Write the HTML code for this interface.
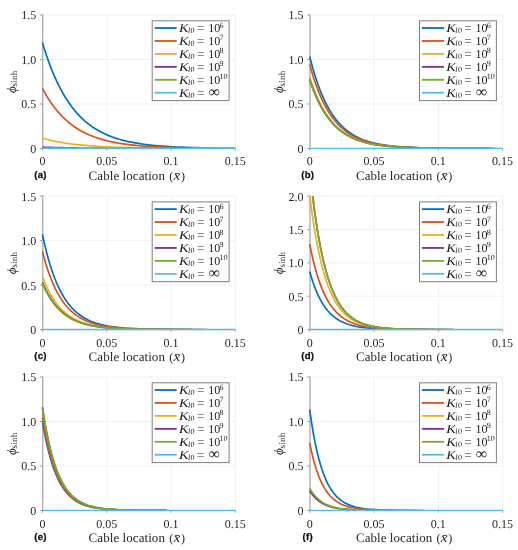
<!DOCTYPE html>
<html><head><meta charset="utf-8"><title>Figure</title>
<style>
html,body{margin:0;padding:0;background:#fff;}
svg{display:block;}
text{text-rendering:geometricPrecision;}
.t{font-family:"Liberation Serif",serif;font-size:12px;fill:#262626;}
.l{font-family:"Liberation Serif",serif;font-size:13px;fill:#262626;}
.p{font-family:"Liberation Sans",sans-serif;font-weight:bold;font-size:9.6px;letter-spacing:0.3px;fill:#111;stroke:#111;stroke-width:0.25px;}
.g{font-family:"Liberation Serif",serif;font-size:12px;fill:#1a1a1a;}
.gi{font-style:italic;}
.s{font-size:8px;}
.u{font-size:8px;}
</style></head><body>
<svg width="518" height="550" viewBox="0 0 518 550">
<rect x="0" y="0" width="518" height="550" fill="#ffffff"/>
<g id="panel-a">
<line x1="106.9" y1="15" x2="106.9" y2="148.5" stroke="#f3f3f3" stroke-width="1.2"/>
<line x1="171.2" y1="15" x2="171.2" y2="148.5" stroke="#f3f3f3" stroke-width="1.2"/>
<line x1="235.5" y1="15" x2="235.5" y2="148.5" stroke="#f3f3f3" stroke-width="1.2"/>
<line x1="42.4" y1="148.5" x2="235.3" y2="148.5" stroke="#f0f0f0" stroke-width="1"/>
<line x1="42.4" y1="104" x2="235.3" y2="104" stroke="#f0f0f0" stroke-width="1"/>
<line x1="42.4" y1="59.5" x2="235.3" y2="59.5" stroke="#f0f0f0" stroke-width="1"/>
<line x1="42.4" y1="15" x2="235.3" y2="15" stroke="#f0f0f0" stroke-width="1"/>
<line x1="42.7" y1="14.5" x2="42.7" y2="149" stroke="#b0b0b0" stroke-width="1.4"/>
<line x1="42.4" y1="148.5" x2="235.3" y2="148.5" stroke="#b0b0b0" stroke-width="1.2"/>
<line x1="40" y1="148.5" x2="42.4" y2="148.5" stroke="#999" stroke-width="1"/>
<text class="t" x="36.2" y="152.9" text-anchor="end">0</text>
<line x1="40" y1="104" x2="42.4" y2="104" stroke="#999" stroke-width="1"/>
<text class="t" x="36.2" y="108.4" text-anchor="end">0.5</text>
<line x1="40" y1="59.5" x2="42.4" y2="59.5" stroke="#999" stroke-width="1"/>
<text class="t" x="36.2" y="63.9" text-anchor="end">1.0</text>
<line x1="40" y1="15" x2="42.4" y2="15" stroke="#999" stroke-width="1"/>
<text class="t" x="36.2" y="19.4" text-anchor="end">1.5</text>
<line x1="42.4" y1="148.5" x2="42.4" y2="150.7" stroke="#999" stroke-width="1"/>
<text class="t" x="42.4" y="165.4" text-anchor="middle">0</text>
<line x1="106.7" y1="148.5" x2="106.7" y2="150.7" stroke="#999" stroke-width="1"/>
<text class="t" x="106.7" y="165.4" text-anchor="middle">0.05</text>
<line x1="171" y1="148.5" x2="171" y2="150.7" stroke="#999" stroke-width="1"/>
<text class="t" x="171" y="165.4" text-anchor="middle">0.1</text>
<line x1="235.3" y1="148.5" x2="235.3" y2="150.7" stroke="#999" stroke-width="1"/>
<text class="t" x="235.3" y="165.4" text-anchor="middle">0.15</text>
<clipPath id="clip-a"><rect x="41.4" y="15" width="194.9" height="134.15"/></clipPath>
<clipPath id="clipc-a"><rect x="41.4" y="15" width="194.9" height="132.8"/></clipPath>
<g fill="none" stroke-width="1.7" stroke-linejoin="round">
<path d="M42.4 42.59 L42.52 43 L42.82 44 L43.28 45.5 L43.87 47.43 L44.6 49.74 L45.46 52.38 L46.43 55.32 L47.53 58.51 L48.74 61.9 L50.07 65.47 L51.5 69.16 L53.05 72.96 L54.7 76.81 L56.45 80.69 L58.31 84.58 L60.27 88.43 L62.33 92.23 L64.49 95.96 L66.75 99.59 L69.1 103.12 L71.55 106.51 L74.1 109.77 L76.74 112.89 L79.47 115.85 L82.3 118.65 L85.22 121.29 L88.23 123.77 L91.33 126.09 L94.52 128.24 L97.8 130.25 L101.16 132.1 L104.62 133.8 L108.16 135.36 L111.79 136.79 L115.51 138.1 L119.31 139.28 L123.2 140.35 L127.18 141.32 L131.23 142.18 L135.38 142.96 L139.6 143.66 L143.91 144.28 L148.3 144.83 L152.78 145.31 L157.33 145.74 L161.97 146.12 L166.69 146.45 L171.49 146.74 L176.37 146.99 L181.33 147.21 L186.37 147.4 L191.5 147.57 L196.7 147.71 L201.98 147.83 L207.33 147.94 L212.77 148.03 L218.29 148.1 L223.88 148.17 L229.55 148.22 L235.3 148.27" stroke="#0072BD" clip-path="url(#clipc-a)"/>
<path d="M42.4 88.34 L42.52 88.57 L42.82 89.14 L43.28 89.99 L43.87 91.09 L44.6 92.4 L45.46 93.9 L46.43 95.57 L47.53 97.38 L48.74 99.31 L50.07 101.33 L51.5 103.43 L53.05 105.59 L54.7 107.78 L56.45 109.98 L58.31 112.19 L60.27 114.38 L62.33 116.54 L64.49 118.65 L66.75 120.72 L69.1 122.72 L71.55 124.65 L74.1 126.5 L76.74 128.27 L79.47 129.95 L82.3 131.54 L85.22 133.04 L88.23 134.45 L91.33 135.77 L94.52 136.99 L97.8 138.13 L101.16 139.18 L104.62 140.15 L108.16 141.04 L111.79 141.85 L115.51 142.59 L119.31 143.26 L123.2 143.87 L127.18 144.42 L131.23 144.91 L135.38 145.35 L139.6 145.75 L143.91 146.1 L148.3 146.41 L152.78 146.69 L157.33 146.93 L161.97 147.15 L166.69 147.34 L171.49 147.5 L176.37 147.64 L181.33 147.77 L186.37 147.88 L191.5 147.97 L196.7 148.05 L201.98 148.12 L207.33 148.18 L212.77 148.23 L218.29 148.27 L223.88 148.31 L229.55 148.34 L235.3 148.37" stroke="#D95319" clip-path="url(#clipc-a)"/>
<path d="M42.4 138.09 L42.52 138.12 L42.82 138.21 L43.28 138.35 L43.87 138.52 L44.6 138.73 L45.46 138.96 L46.43 139.23 L47.53 139.52 L48.74 139.83 L50.07 140.15 L51.5 140.49 L53.05 140.84 L54.7 141.19 L56.45 141.55 L58.31 141.91 L60.27 142.28 L62.33 142.63 L64.49 142.99 L66.75 143.34 L69.1 143.67 L71.55 144 L74.1 144.32 L76.74 144.63 L79.47 144.92 L82.3 145.2 L85.22 145.47 L88.23 145.72 L91.33 145.96 L94.52 146.18 L97.8 146.39 L101.16 146.58 L104.62 146.76 L108.16 146.93 L111.79 147.09 L115.51 147.23 L119.31 147.36 L123.2 147.48 L127.18 147.59 L131.23 147.69 L135.38 147.78 L139.6 147.87 L143.91 147.94 L148.3 148.01 L152.78 148.07 L157.33 148.12 L161.97 148.17 L166.69 148.21 L171.49 148.25 L176.37 148.28 L181.33 148.31 L186.37 148.34 L191.5 148.36 L196.7 148.38 L201.98 148.39 L207.33 148.41 L212.77 148.42 L218.29 148.43 L223.88 148.44 L229.55 148.45 L235.3 148.46" stroke="#EDB120" clip-path="url(#clipc-a)"/>
<path d="M42.4 147.16 L42.52 147.17 L42.82 147.18 L43.28 147.2 L43.87 147.22 L44.6 147.24 L45.46 147.27 L46.43 147.3 L47.53 147.33 L48.74 147.37 L50.07 147.41 L51.5 147.45 L53.05 147.49 L54.7 147.53 L56.45 147.57 L58.31 147.62 L60.27 147.66 L62.33 147.7 L64.49 147.75 L66.75 147.79 L69.1 147.83 L71.55 147.87 L74.1 147.91 L76.74 147.95 L79.47 147.99 L82.3 148.03 L85.22 148.06 L88.23 148.09 L91.33 148.12 L94.52 148.15 L97.8 148.18 L101.16 148.21 L104.62 148.23 L108.16 148.26 L111.79 148.28 L115.51 148.3 L119.31 148.32 L123.2 148.34 L127.18 148.35 L131.23 148.37 L135.38 148.38 L139.6 148.39 L143.91 148.4 L148.3 148.41 L152.78 148.42 L157.33 148.43 L161.97 148.44 L166.69 148.45 L171.49 148.45 L176.37 148.46 L181.33 148.46 L186.37 148.47 L191.5 148.47" stroke="#7E2F8E" clip-path="url(#clipc-a)"/>
<path d="M42.4 148.46 L42.52 148.46 L42.82 148.46 L43.28 148.46 L43.87 148.46 L44.6 148.46 L45.46 148.46 L46.43 148.46 L47.53 148.46 L48.74 148.46 L50.07 148.46 L51.5 148.46 L53.05 148.47 L54.7 148.47 L56.45 148.47 L58.31 148.47" stroke="#77AC30" clip-path="url(#clipc-a)"/>
<path d="M42.4 148.5 L42.52 148.5 L42.82 148.5 L43.28 148.5 L43.87 148.5 L44.6 148.5 L45.46 148.5 L46.43 148.5 L47.53 148.5 L48.74 148.5 L50.07 148.5 L51.5 148.5 L53.05 148.5 L54.7 148.5 L56.45 148.5 L58.31 148.5 L60.27 148.5 L62.33 148.5 L64.49 148.5 L66.75 148.5 L69.1 148.5 L71.55 148.5 L74.1 148.5 L76.74 148.5 L79.47 148.5 L82.3 148.5 L85.22 148.5 L88.23 148.5 L91.33 148.5 L94.52 148.5 L97.8 148.5 L101.16 148.5 L104.62 148.5 L108.16 148.5 L111.79 148.5 L115.51 148.5 L119.31 148.5 L123.2 148.5 L127.18 148.5 L131.23 148.5 L135.38 148.5 L139.6 148.5 L143.91 148.5 L148.3 148.5 L152.78 148.5 L157.33 148.5 L161.97 148.5 L166.69 148.5 L171.49 148.5 L176.37 148.5 L181.33 148.5 L186.37 148.5 L191.5 148.5 L196.7 148.5 L201.98 148.5 L207.33 148.5 L212.77 148.5 L218.29 148.5 L223.88 148.5 L229.55 148.5 L235.3 148.5" stroke="#4DBEEE" clip-path="url(#clip-a)"/>
</g>
<rect x="152.2" y="20.8" width="76.9" height="79.8" fill="#fff" stroke="#7f7f7f" stroke-width="1"/>
<line x1="154.6" y1="28" x2="176.7" y2="28" stroke="#0072BD" stroke-width="1.8"/>
<text class="g" y="31.9"><tspan class="gi" x="179" textLength="9.6" lengthAdjust="spacingAndGlyphs">K</tspan><tspan class="s gi" x="188" y="33.2">l</tspan><tspan class="s" x="190.6" y="33.2">0</tspan><tspan x="197" y="31.9" textLength="7.4" lengthAdjust="spacingAndGlyphs">=</tspan><tspan x="208.2" y="31.9">10</tspan><tspan class="u" x="219.5" y="27.5">6</tspan></text>
<line x1="154.6" y1="40.95" x2="176.7" y2="40.95" stroke="#D95319" stroke-width="1.8"/>
<text class="g" y="44.85"><tspan class="gi" x="179" textLength="9.6" lengthAdjust="spacingAndGlyphs">K</tspan><tspan class="s gi" x="188" y="46.15">l</tspan><tspan class="s" x="190.6" y="46.15">0</tspan><tspan x="197" y="44.85" textLength="7.4" lengthAdjust="spacingAndGlyphs">=</tspan><tspan x="208.2" y="44.85">10</tspan><tspan class="u" x="219.5" y="40.45">7</tspan></text>
<line x1="154.6" y1="53.9" x2="176.7" y2="53.9" stroke="#EDB120" stroke-width="1.8"/>
<text class="g" y="57.8"><tspan class="gi" x="179" textLength="9.6" lengthAdjust="spacingAndGlyphs">K</tspan><tspan class="s gi" x="188" y="59.1">l</tspan><tspan class="s" x="190.6" y="59.1">0</tspan><tspan x="197" y="57.8" textLength="7.4" lengthAdjust="spacingAndGlyphs">=</tspan><tspan x="208.2" y="57.8">10</tspan><tspan class="u" x="219.5" y="53.4">8</tspan></text>
<line x1="154.6" y1="66.85" x2="176.7" y2="66.85" stroke="#7E2F8E" stroke-width="1.8"/>
<text class="g" y="70.75"><tspan class="gi" x="179" textLength="9.6" lengthAdjust="spacingAndGlyphs">K</tspan><tspan class="s gi" x="188" y="72.05">l</tspan><tspan class="s" x="190.6" y="72.05">0</tspan><tspan x="197" y="70.75" textLength="7.4" lengthAdjust="spacingAndGlyphs">=</tspan><tspan x="208.2" y="70.75">10</tspan><tspan class="u" x="219.5" y="66.35">9</tspan></text>
<line x1="154.6" y1="79.8" x2="176.7" y2="79.8" stroke="#77AC30" stroke-width="1.8"/>
<text class="g" y="83.7"><tspan class="gi" x="179" textLength="9.6" lengthAdjust="spacingAndGlyphs">K</tspan><tspan class="s gi" x="188" y="85">l</tspan><tspan class="s" x="190.6" y="85">0</tspan><tspan x="197" y="83.7" textLength="7.4" lengthAdjust="spacingAndGlyphs">=</tspan><tspan x="208.2" y="83.7">10</tspan><tspan class="u" x="219.5" y="79.3">10</tspan></text>
<line x1="154.6" y1="92.75" x2="176.7" y2="92.75" stroke="#4DBEEE" stroke-width="1.8"/>
<text class="g" y="96.65"><tspan class="gi" x="179" textLength="9.6" lengthAdjust="spacingAndGlyphs">K</tspan><tspan class="s gi" x="188" y="97.95">l</tspan><tspan class="s" x="190.6" y="97.95">0</tspan><tspan x="197" y="96.65" textLength="7.4" lengthAdjust="spacingAndGlyphs">=</tspan><tspan x="208.4" y="96.65" font-size="16px" dy="0.6">∞</tspan></text>
<text class="l" y="180.1"><tspan x="88.6" textLength="76.3" lengthAdjust="spacing">Cable location</tspan><tspan x="169.2" font-size="12px">(</tspan><tspan x="173.4" font-style="italic" textLength="6.8" lengthAdjust="spacingAndGlyphs">x̄</tspan><tspan x="181" font-size="12px">)</tspan></text>
<text class="p" x="40.5" y="177.9" text-anchor="middle">(a)</text>
<text class="l" transform="translate(15.8 93.05) rotate(-90)"><tspan class="gi" x="0" y="0">ϕ</tspan><tspan font-size="9px" x="6.6" y="1.6" textLength="15.6" lengthAdjust="spacing">sinh</tspan></text>
</g>
<g id="panel-b">
<line x1="374.2" y1="15" x2="374.2" y2="148.5" stroke="#f3f3f3" stroke-width="1.2"/>
<line x1="438.5" y1="15" x2="438.5" y2="148.5" stroke="#f3f3f3" stroke-width="1.2"/>
<line x1="502.8" y1="15" x2="502.8" y2="148.5" stroke="#f3f3f3" stroke-width="1.2"/>
<line x1="309.7" y1="148.5" x2="502.6" y2="148.5" stroke="#f0f0f0" stroke-width="1"/>
<line x1="309.7" y1="104" x2="502.6" y2="104" stroke="#f0f0f0" stroke-width="1"/>
<line x1="309.7" y1="59.5" x2="502.6" y2="59.5" stroke="#f0f0f0" stroke-width="1"/>
<line x1="309.7" y1="15" x2="502.6" y2="15" stroke="#f0f0f0" stroke-width="1"/>
<line x1="310" y1="14.5" x2="310" y2="149" stroke="#b0b0b0" stroke-width="1.4"/>
<line x1="309.7" y1="148.5" x2="502.6" y2="148.5" stroke="#b0b0b0" stroke-width="1.2"/>
<line x1="307.3" y1="148.5" x2="309.7" y2="148.5" stroke="#999" stroke-width="1"/>
<text class="t" x="303.5" y="152.9" text-anchor="end">0</text>
<line x1="307.3" y1="104" x2="309.7" y2="104" stroke="#999" stroke-width="1"/>
<text class="t" x="303.5" y="108.4" text-anchor="end">0.5</text>
<line x1="307.3" y1="59.5" x2="309.7" y2="59.5" stroke="#999" stroke-width="1"/>
<text class="t" x="303.5" y="63.9" text-anchor="end">1.0</text>
<line x1="307.3" y1="15" x2="309.7" y2="15" stroke="#999" stroke-width="1"/>
<text class="t" x="303.5" y="19.4" text-anchor="end">1.5</text>
<line x1="309.7" y1="148.5" x2="309.7" y2="150.7" stroke="#999" stroke-width="1"/>
<text class="t" x="309.7" y="165.4" text-anchor="middle">0</text>
<line x1="374" y1="148.5" x2="374" y2="150.7" stroke="#999" stroke-width="1"/>
<text class="t" x="374" y="165.4" text-anchor="middle">0.05</text>
<line x1="438.3" y1="148.5" x2="438.3" y2="150.7" stroke="#999" stroke-width="1"/>
<text class="t" x="438.3" y="165.4" text-anchor="middle">0.1</text>
<line x1="502.6" y1="148.5" x2="502.6" y2="150.7" stroke="#999" stroke-width="1"/>
<text class="t" x="502.6" y="165.4" text-anchor="middle">0.15</text>
<clipPath id="clip-b"><rect x="308.7" y="15" width="194.9" height="134.15"/></clipPath>
<clipPath id="clipc-b"><rect x="308.7" y="15" width="194.9" height="132.8"/></clipPath>
<g fill="none" stroke-width="1.7" stroke-linejoin="round">
<path d="M309.7 56.47 L309.82 56.96 L310.12 58.17 L310.58 59.96 L311.17 62.24 L311.9 64.96 L312.76 68.04 L313.73 71.42 L314.83 75.05 L316.04 78.86 L317.37 82.79 L318.8 86.81 L320.35 90.85 L322 94.88 L323.75 98.86 L325.61 102.75 L327.57 106.52 L329.63 110.16 L331.79 113.63 L334.05 116.92 L336.4 120.02 L338.85 122.93 L341.4 125.64 L344.04 128.14 L346.77 130.44 L349.6 132.55 L352.52 134.47 L355.53 136.21 L358.63 137.77 L361.82 139.18 L365.1 140.43 L368.46 141.54 L371.92 142.52 L375.46 143.38 L379.09 144.14 L382.81 144.79 L386.61 145.36 L390.5 145.86 L394.48 146.28 L398.53 146.64 L402.68 146.95 L406.9 147.21 L411.21 147.44 L415.6 147.62 L420.08 147.78 L424.63 147.91 L429.27 148.02 L433.99 148.11 L438.79 148.18 L443.67 148.24 L448.63 148.29 L453.67 148.34 L458.8 148.37 L464 148.4 L469.28 148.42 L474.63 148.43 L480.07 148.45 L485.59 148.46 L491.18 148.47 L496.85 148.48" stroke="#0072BD" clip-path="url(#clipc-b)"/>
<path d="M309.7 64.57 L309.82 65.02 L310.12 66.12 L310.58 67.75 L311.17 69.83 L311.9 72.31 L312.76 75.12 L313.73 78.21 L314.83 81.51 L316.04 84.98 L317.37 88.58 L318.8 92.24 L320.35 95.92 L322 99.6 L323.75 103.23 L325.61 106.78 L327.57 110.22 L329.63 113.53 L331.79 116.7 L334.05 119.7 L336.4 122.53 L338.85 125.18 L341.4 127.65 L344.04 129.93 L346.77 132.03 L349.6 133.96 L352.52 135.71 L355.53 137.29 L358.63 138.72 L361.82 140 L365.1 141.14 L368.46 142.15 L371.92 143.05 L375.46 143.83 L379.09 144.52 L382.81 145.12 L386.61 145.64 L390.5 146.09 L394.48 146.48 L398.53 146.81 L402.68 147.09 L406.9 147.33 L411.21 147.53 L415.6 147.7 L420.08 147.84 L424.63 147.96 L429.27 148.06 L433.99 148.14 L438.79 148.21 L443.67 148.27 L448.63 148.31 L453.67 148.35 L458.8 148.38 L464 148.4 L469.28 148.42 L474.63 148.44 L480.07 148.45 L485.59 148.46 L491.18 148.47" stroke="#D95319" clip-path="url(#clipc-b)"/>
<path d="M309.7 77.3 L309.82 77.68 L310.12 78.61 L310.58 79.99 L311.17 81.76 L311.9 83.87 L312.76 86.25 L313.73 88.87 L314.83 91.67 L316.04 94.62 L317.37 97.66 L318.8 100.77 L320.35 103.9 L322 107.02 L323.75 110.09 L325.61 113.1 L327.57 116.02 L329.63 118.83 L331.79 121.52 L334.05 124.07 L336.4 126.47 L338.85 128.72 L341.4 130.81 L344.04 132.75 L346.77 134.53 L349.6 136.16 L352.52 137.65 L355.53 138.99 L358.63 140.2 L361.82 141.29 L365.1 142.25 L368.46 143.11 L371.92 143.87 L375.46 144.54 L379.09 145.12 L382.81 145.63 L386.61 146.07 L390.5 146.45 L394.48 146.78 L398.53 147.06 L402.68 147.3 L406.9 147.5 L411.21 147.68 L415.6 147.82 L420.08 147.94 L424.63 148.04 L429.27 148.13 L433.99 148.2 L438.79 148.25 L443.67 148.3 L448.63 148.34 L453.67 148.37 L458.8 148.4 L464 148.42 L469.28 148.44 L474.63 148.45 L480.07 148.46 L485.59 148.47 L491.18 148.48" stroke="#EDB120" clip-path="url(#clipc-b)"/>
<path d="M309.7 79.52 L309.82 79.89 L310.12 80.8 L310.58 82.13 L311.17 83.85 L311.9 85.88 L312.76 88.19 L313.73 90.73 L314.83 93.45 L316.04 96.3 L317.37 99.25 L318.8 102.26 L320.35 105.29 L322 108.31 L323.75 111.29 L325.61 114.21 L327.57 117.04 L329.63 119.76 L331.79 122.36 L334.05 124.83 L336.4 127.16 L338.85 129.34 L341.4 131.36 L344.04 133.24 L346.77 134.97 L349.6 136.55 L352.52 137.99 L355.53 139.29 L358.63 140.46 L361.82 141.51 L365.1 142.45 L368.46 143.28 L371.92 144.02 L375.46 144.66 L379.09 145.23 L382.81 145.72 L386.61 146.15 L390.5 146.52 L394.48 146.84 L398.53 147.11 L402.68 147.34 L406.9 147.54 L411.21 147.7 L415.6 147.84 L420.08 147.96 L424.63 148.06 L429.27 148.14 L433.99 148.21 L438.79 148.26 L443.67 148.31 L448.63 148.35 L453.67 148.38 L458.8 148.4 L464 148.42 L469.28 148.44 L474.63 148.45 L480.07 148.46 L485.59 148.47 L491.18 148.48" stroke="#7E2F8E" clip-path="url(#clipc-b)"/>
<path d="M309.7 79.97 L309.82 80.33 L310.12 81.23 L310.58 82.56 L311.17 84.27 L311.9 86.29 L312.76 88.58 L313.73 91.1 L314.83 93.8 L316.04 96.64 L317.37 99.57 L318.8 102.56 L320.35 105.57 L322 108.57 L323.75 111.53 L325.61 114.43 L327.57 117.24 L329.63 119.95 L331.79 122.53 L334.05 124.98 L336.4 127.29 L338.85 129.46 L341.4 131.47 L344.04 133.34 L346.77 135.05 L349.6 136.62 L352.52 138.05 L355.53 139.35 L358.63 140.51 L361.82 141.56 L365.1 142.49 L368.46 143.32 L371.92 144.05 L375.46 144.69 L379.09 145.25 L382.81 145.74 L386.61 146.16 L390.5 146.53 L394.48 146.85 L398.53 147.12 L402.68 147.35 L406.9 147.54 L411.21 147.71 L415.6 147.85 L420.08 147.96 L424.63 148.06 L429.27 148.14 L433.99 148.21 L438.79 148.26 L443.67 148.31 L448.63 148.35 L453.67 148.38 L458.8 148.4 L464 148.42 L469.28 148.44 L474.63 148.45 L480.07 148.46 L485.59 148.47 L491.18 148.48" stroke="#77AC30" clip-path="url(#clipc-b)"/>
<path d="M309.7 148.5 L309.82 148.5 L310.12 148.5 L310.58 148.5 L311.17 148.5 L311.9 148.5 L312.76 148.5 L313.73 148.5 L314.83 148.5 L316.04 148.5 L317.37 148.5 L318.8 148.5 L320.35 148.5 L322 148.5 L323.75 148.5 L325.61 148.5 L327.57 148.5 L329.63 148.5 L331.79 148.5 L334.05 148.5 L336.4 148.5 L338.85 148.5 L341.4 148.5 L344.04 148.5 L346.77 148.5 L349.6 148.5 L352.52 148.5 L355.53 148.5 L358.63 148.5 L361.82 148.5 L365.1 148.5 L368.46 148.5 L371.92 148.5 L375.46 148.5 L379.09 148.5 L382.81 148.5 L386.61 148.5 L390.5 148.5 L394.48 148.5 L398.53 148.5 L402.68 148.5 L406.9 148.5 L411.21 148.5 L415.6 148.5 L420.08 148.5 L424.63 148.5 L429.27 148.5 L433.99 148.5 L438.79 148.5 L443.67 148.5 L448.63 148.5 L453.67 148.5 L458.8 148.5 L464 148.5 L469.28 148.5 L474.63 148.5 L480.07 148.5 L485.59 148.5 L491.18 148.5 L496.85 148.5 L502.6 148.5" stroke="#4DBEEE" clip-path="url(#clip-b)"/>
</g>
<rect x="419.5" y="20.8" width="76.9" height="79.8" fill="#fff" stroke="#7f7f7f" stroke-width="1"/>
<line x1="421.9" y1="28" x2="444" y2="28" stroke="#0072BD" stroke-width="1.8"/>
<text class="g" y="31.9"><tspan class="gi" x="446.3" textLength="9.6" lengthAdjust="spacingAndGlyphs">K</tspan><tspan class="s gi" x="455.3" y="33.2">l</tspan><tspan class="s" x="457.9" y="33.2">0</tspan><tspan x="464.3" y="31.9" textLength="7.4" lengthAdjust="spacingAndGlyphs">=</tspan><tspan x="475.5" y="31.9">10</tspan><tspan class="u" x="486.8" y="27.5">6</tspan></text>
<line x1="421.9" y1="40.95" x2="444" y2="40.95" stroke="#D95319" stroke-width="1.8"/>
<text class="g" y="44.85"><tspan class="gi" x="446.3" textLength="9.6" lengthAdjust="spacingAndGlyphs">K</tspan><tspan class="s gi" x="455.3" y="46.15">l</tspan><tspan class="s" x="457.9" y="46.15">0</tspan><tspan x="464.3" y="44.85" textLength="7.4" lengthAdjust="spacingAndGlyphs">=</tspan><tspan x="475.5" y="44.85">10</tspan><tspan class="u" x="486.8" y="40.45">7</tspan></text>
<line x1="421.9" y1="53.9" x2="444" y2="53.9" stroke="#EDB120" stroke-width="1.8"/>
<text class="g" y="57.8"><tspan class="gi" x="446.3" textLength="9.6" lengthAdjust="spacingAndGlyphs">K</tspan><tspan class="s gi" x="455.3" y="59.1">l</tspan><tspan class="s" x="457.9" y="59.1">0</tspan><tspan x="464.3" y="57.8" textLength="7.4" lengthAdjust="spacingAndGlyphs">=</tspan><tspan x="475.5" y="57.8">10</tspan><tspan class="u" x="486.8" y="53.4">8</tspan></text>
<line x1="421.9" y1="66.85" x2="444" y2="66.85" stroke="#7E2F8E" stroke-width="1.8"/>
<text class="g" y="70.75"><tspan class="gi" x="446.3" textLength="9.6" lengthAdjust="spacingAndGlyphs">K</tspan><tspan class="s gi" x="455.3" y="72.05">l</tspan><tspan class="s" x="457.9" y="72.05">0</tspan><tspan x="464.3" y="70.75" textLength="7.4" lengthAdjust="spacingAndGlyphs">=</tspan><tspan x="475.5" y="70.75">10</tspan><tspan class="u" x="486.8" y="66.35">9</tspan></text>
<line x1="421.9" y1="79.8" x2="444" y2="79.8" stroke="#77AC30" stroke-width="1.8"/>
<text class="g" y="83.7"><tspan class="gi" x="446.3" textLength="9.6" lengthAdjust="spacingAndGlyphs">K</tspan><tspan class="s gi" x="455.3" y="85">l</tspan><tspan class="s" x="457.9" y="85">0</tspan><tspan x="464.3" y="83.7" textLength="7.4" lengthAdjust="spacingAndGlyphs">=</tspan><tspan x="475.5" y="83.7">10</tspan><tspan class="u" x="486.8" y="79.3">10</tspan></text>
<line x1="421.9" y1="92.75" x2="444" y2="92.75" stroke="#4DBEEE" stroke-width="1.8"/>
<text class="g" y="96.65"><tspan class="gi" x="446.3" textLength="9.6" lengthAdjust="spacingAndGlyphs">K</tspan><tspan class="s gi" x="455.3" y="97.95">l</tspan><tspan class="s" x="457.9" y="97.95">0</tspan><tspan x="464.3" y="96.65" textLength="7.4" lengthAdjust="spacingAndGlyphs">=</tspan><tspan x="475.7" y="96.65" font-size="16px" dy="0.6">∞</tspan></text>
<text class="l" y="180.1"><tspan x="355.9" textLength="76.3" lengthAdjust="spacing">Cable location</tspan><tspan x="436.5" font-size="12px">(</tspan><tspan x="440.7" font-style="italic" textLength="6.8" lengthAdjust="spacingAndGlyphs">x̄</tspan><tspan x="448.3" font-size="12px">)</tspan></text>
<text class="p" x="307.8" y="177.9" text-anchor="middle">(b)</text>
<text class="l" transform="translate(283.1 93.05) rotate(-90)"><tspan class="gi" x="0" y="0">ϕ</tspan><tspan font-size="9px" x="6.6" y="1.6" textLength="15.6" lengthAdjust="spacing">sinh</tspan></text>
</g>
<g id="panel-c">
<line x1="106.9" y1="196.1" x2="106.9" y2="329.6" stroke="#f3f3f3" stroke-width="1.2"/>
<line x1="171.2" y1="196.1" x2="171.2" y2="329.6" stroke="#f3f3f3" stroke-width="1.2"/>
<line x1="235.5" y1="196.1" x2="235.5" y2="329.6" stroke="#f3f3f3" stroke-width="1.2"/>
<line x1="42.4" y1="329.6" x2="235.3" y2="329.6" stroke="#f0f0f0" stroke-width="1"/>
<line x1="42.4" y1="285.1" x2="235.3" y2="285.1" stroke="#f0f0f0" stroke-width="1"/>
<line x1="42.4" y1="240.6" x2="235.3" y2="240.6" stroke="#f0f0f0" stroke-width="1"/>
<line x1="42.4" y1="196.1" x2="235.3" y2="196.1" stroke="#f0f0f0" stroke-width="1"/>
<line x1="42.7" y1="195.6" x2="42.7" y2="330.1" stroke="#b0b0b0" stroke-width="1.4"/>
<line x1="42.4" y1="329.6" x2="235.3" y2="329.6" stroke="#b0b0b0" stroke-width="1.2"/>
<line x1="40" y1="329.6" x2="42.4" y2="329.6" stroke="#999" stroke-width="1"/>
<text class="t" x="36.2" y="334" text-anchor="end">0</text>
<line x1="40" y1="285.1" x2="42.4" y2="285.1" stroke="#999" stroke-width="1"/>
<text class="t" x="36.2" y="289.5" text-anchor="end">0.5</text>
<line x1="40" y1="240.6" x2="42.4" y2="240.6" stroke="#999" stroke-width="1"/>
<text class="t" x="36.2" y="245" text-anchor="end">1.0</text>
<line x1="40" y1="196.1" x2="42.4" y2="196.1" stroke="#999" stroke-width="1"/>
<text class="t" x="36.2" y="200.5" text-anchor="end">1.5</text>
<line x1="42.4" y1="329.6" x2="42.4" y2="331.8" stroke="#999" stroke-width="1"/>
<text class="t" x="42.4" y="346.5" text-anchor="middle">0</text>
<line x1="106.7" y1="329.6" x2="106.7" y2="331.8" stroke="#999" stroke-width="1"/>
<text class="t" x="106.7" y="346.5" text-anchor="middle">0.05</text>
<line x1="171" y1="329.6" x2="171" y2="331.8" stroke="#999" stroke-width="1"/>
<text class="t" x="171" y="346.5" text-anchor="middle">0.1</text>
<line x1="235.3" y1="329.6" x2="235.3" y2="331.8" stroke="#999" stroke-width="1"/>
<text class="t" x="235.3" y="346.5" text-anchor="middle">0.15</text>
<clipPath id="clip-c"><rect x="41.4" y="196.1" width="194.9" height="134.15"/></clipPath>
<clipPath id="clipc-c"><rect x="41.4" y="196.1" width="194.9" height="132.8"/></clipPath>
<g fill="none" stroke-width="1.7" stroke-linejoin="round">
<path d="M42.4 234.37 L42.52 234.95 L42.82 236.37 L43.28 238.47 L43.87 241.16 L44.6 244.33 L45.46 247.91 L46.43 251.82 L47.53 255.98 L48.74 260.33 L50.07 264.78 L51.5 269.28 L53.05 273.78 L54.7 278.21 L56.45 282.54 L58.31 286.73 L60.27 290.74 L62.33 294.56 L64.49 298.16 L66.75 301.52 L69.1 304.65 L71.55 307.54 L74.1 310.18 L76.74 312.59 L79.47 314.77 L82.3 316.73 L85.22 318.49 L88.23 320.04 L91.33 321.42 L94.52 322.63 L97.8 323.69 L101.16 324.61 L104.62 325.4 L108.16 326.08 L111.79 326.67 L115.51 327.17 L119.31 327.59 L123.2 327.95 L127.18 328.25 L131.23 328.5 L135.38 328.7 L139.6 328.87 L143.91 329.02 L148.3 329.13 L152.78 329.23 L157.33 329.3 L161.97 329.36 L166.69 329.41 L171.49 329.45 L176.37 329.49 L181.33 329.51 L186.37 329.53 L191.5 329.55 L196.7 329.56 L201.98 329.57 L207.33 329.58" stroke="#0072BD" clip-path="url(#clipc-c)"/>
<path d="M42.4 251.28 L42.52 251.76 L42.82 252.93 L43.28 254.65 L43.87 256.86 L44.6 259.47 L45.46 262.42 L46.43 265.63 L47.53 269.06 L48.74 272.63 L50.07 276.29 L51.5 279.99 L53.05 283.69 L54.7 287.34 L56.45 290.9 L58.31 294.34 L60.27 297.64 L62.33 300.78 L64.49 303.74 L66.75 306.51 L69.1 309.08 L71.55 311.46 L74.1 313.63 L76.74 315.61 L79.47 317.41 L82.3 319.02 L85.22 320.46 L88.23 321.74 L91.33 322.87 L94.52 323.87 L97.8 324.74 L101.16 325.49 L104.62 326.15 L108.16 326.71 L111.79 327.19 L115.51 327.6 L119.31 327.95 L123.2 328.24 L127.18 328.49 L131.23 328.69 L135.38 328.86 L139.6 329 L143.91 329.12 L148.3 329.21 L152.78 329.29 L157.33 329.35 L161.97 329.41 L166.69 329.45 L171.49 329.48 L176.37 329.51 L181.33 329.53 L186.37 329.54 L191.5 329.56 L196.7 329.57 L201.98 329.57" stroke="#D95319" clip-path="url(#clipc-c)"/>
<path d="M42.4 276.65 L42.52 276.97 L42.82 277.76 L43.28 278.93 L43.87 280.42 L44.6 282.18 L45.46 284.17 L46.43 286.35 L47.53 288.66 L48.74 291.08 L50.07 293.55 L51.5 296.06 L53.05 298.56 L54.7 301.02 L56.45 303.43 L58.31 305.76 L60.27 307.99 L62.33 310.11 L64.49 312.11 L66.75 313.99 L69.1 315.73 L71.55 317.33 L74.1 318.8 L76.74 320.14 L79.47 321.35 L82.3 322.44 L85.22 323.42 L88.23 324.29 L91.33 325.05 L94.52 325.72 L97.8 326.31 L101.16 326.82 L104.62 327.27 L108.16 327.65 L111.79 327.97 L115.51 328.25 L119.31 328.48 L123.2 328.68 L127.18 328.85 L131.23 328.99 L135.38 329.1 L139.6 329.2 L143.91 329.27 L148.3 329.34 L152.78 329.39 L157.33 329.43 L161.97 329.47 L166.69 329.5 L171.49 329.52 L176.37 329.54 L181.33 329.55 L186.37 329.56 L191.5 329.57" stroke="#EDB120" clip-path="url(#clipc-c)"/>
<path d="M42.4 282.43 L42.52 282.72 L42.82 283.42 L43.28 284.46 L43.87 285.79 L44.6 287.36 L45.46 289.14 L46.43 291.07 L47.53 293.14 L48.74 295.29 L50.07 297.49 L51.5 299.72 L53.05 301.95 L54.7 304.15 L56.45 306.29 L58.31 308.36 L60.27 310.35 L62.33 312.24 L64.49 314.03 L66.75 315.69 L69.1 317.24 L71.55 318.67 L74.1 319.98 L76.74 321.18 L79.47 322.26 L82.3 323.23 L85.22 324.09 L88.23 324.87 L91.33 325.55 L94.52 326.15 L97.8 326.67 L101.16 327.13 L104.62 327.52 L108.16 327.86 L111.79 328.15 L115.51 328.4 L119.31 328.6 L123.2 328.78 L127.18 328.93 L131.23 329.05 L135.38 329.16 L139.6 329.24 L143.91 329.31 L148.3 329.37 L152.78 329.41 L157.33 329.45 L161.97 329.48 L166.69 329.51 L171.49 329.53 L176.37 329.54 L181.33 329.56 L186.37 329.57 L191.5 329.57" stroke="#7E2F8E" clip-path="url(#clipc-c)"/>
<path d="M42.4 283.59 L42.52 283.87 L42.82 284.55 L43.28 285.57 L43.87 286.87 L44.6 288.4 L45.46 290.13 L46.43 292.02 L47.53 294.03 L48.74 296.13 L50.07 298.28 L51.5 300.46 L53.05 302.63 L54.7 304.77 L56.45 306.86 L58.31 308.89 L60.27 310.83 L62.33 312.67 L64.49 314.41 L66.75 316.03 L69.1 317.55 L71.55 318.94 L74.1 320.22 L76.74 321.38 L79.47 322.44 L82.3 323.38 L85.22 324.23 L88.23 324.98 L91.33 325.65 L94.52 326.23 L97.8 326.74 L101.16 327.19 L104.62 327.57 L108.16 327.9 L111.79 328.18 L115.51 328.43 L119.31 328.63 L123.2 328.8 L127.18 328.95 L131.23 329.07 L135.38 329.17 L139.6 329.25 L143.91 329.32 L148.3 329.37 L152.78 329.42 L157.33 329.46 L161.97 329.49 L166.69 329.51 L171.49 329.53 L176.37 329.54 L181.33 329.56 L186.37 329.57 L191.5 329.57" stroke="#77AC30" clip-path="url(#clipc-c)"/>
<path d="M42.4 329.6 L42.52 329.6 L42.82 329.6 L43.28 329.6 L43.87 329.6 L44.6 329.6 L45.46 329.6 L46.43 329.6 L47.53 329.6 L48.74 329.6 L50.07 329.6 L51.5 329.6 L53.05 329.6 L54.7 329.6 L56.45 329.6 L58.31 329.6 L60.27 329.6 L62.33 329.6 L64.49 329.6 L66.75 329.6 L69.1 329.6 L71.55 329.6 L74.1 329.6 L76.74 329.6 L79.47 329.6 L82.3 329.6 L85.22 329.6 L88.23 329.6 L91.33 329.6 L94.52 329.6 L97.8 329.6 L101.16 329.6 L104.62 329.6 L108.16 329.6 L111.79 329.6 L115.51 329.6 L119.31 329.6 L123.2 329.6 L127.18 329.6 L131.23 329.6 L135.38 329.6 L139.6 329.6 L143.91 329.6 L148.3 329.6 L152.78 329.6 L157.33 329.6 L161.97 329.6 L166.69 329.6 L171.49 329.6 L176.37 329.6 L181.33 329.6 L186.37 329.6 L191.5 329.6 L196.7 329.6 L201.98 329.6 L207.33 329.6 L212.77 329.6 L218.29 329.6 L223.88 329.6 L229.55 329.6 L235.3 329.6" stroke="#4DBEEE" clip-path="url(#clip-c)"/>
</g>
<rect x="152.2" y="201.9" width="76.9" height="79.8" fill="#fff" stroke="#7f7f7f" stroke-width="1"/>
<line x1="154.6" y1="209.1" x2="176.7" y2="209.1" stroke="#0072BD" stroke-width="1.8"/>
<text class="g" y="213"><tspan class="gi" x="179" textLength="9.6" lengthAdjust="spacingAndGlyphs">K</tspan><tspan class="s gi" x="188" y="214.3">l</tspan><tspan class="s" x="190.6" y="214.3">0</tspan><tspan x="197" y="213" textLength="7.4" lengthAdjust="spacingAndGlyphs">=</tspan><tspan x="208.2" y="213">10</tspan><tspan class="u" x="219.5" y="208.6">6</tspan></text>
<line x1="154.6" y1="222.05" x2="176.7" y2="222.05" stroke="#D95319" stroke-width="1.8"/>
<text class="g" y="225.95"><tspan class="gi" x="179" textLength="9.6" lengthAdjust="spacingAndGlyphs">K</tspan><tspan class="s gi" x="188" y="227.25">l</tspan><tspan class="s" x="190.6" y="227.25">0</tspan><tspan x="197" y="225.95" textLength="7.4" lengthAdjust="spacingAndGlyphs">=</tspan><tspan x="208.2" y="225.95">10</tspan><tspan class="u" x="219.5" y="221.55">7</tspan></text>
<line x1="154.6" y1="235" x2="176.7" y2="235" stroke="#EDB120" stroke-width="1.8"/>
<text class="g" y="238.9"><tspan class="gi" x="179" textLength="9.6" lengthAdjust="spacingAndGlyphs">K</tspan><tspan class="s gi" x="188" y="240.2">l</tspan><tspan class="s" x="190.6" y="240.2">0</tspan><tspan x="197" y="238.9" textLength="7.4" lengthAdjust="spacingAndGlyphs">=</tspan><tspan x="208.2" y="238.9">10</tspan><tspan class="u" x="219.5" y="234.5">8</tspan></text>
<line x1="154.6" y1="247.95" x2="176.7" y2="247.95" stroke="#7E2F8E" stroke-width="1.8"/>
<text class="g" y="251.85"><tspan class="gi" x="179" textLength="9.6" lengthAdjust="spacingAndGlyphs">K</tspan><tspan class="s gi" x="188" y="253.15">l</tspan><tspan class="s" x="190.6" y="253.15">0</tspan><tspan x="197" y="251.85" textLength="7.4" lengthAdjust="spacingAndGlyphs">=</tspan><tspan x="208.2" y="251.85">10</tspan><tspan class="u" x="219.5" y="247.45">9</tspan></text>
<line x1="154.6" y1="260.9" x2="176.7" y2="260.9" stroke="#77AC30" stroke-width="1.8"/>
<text class="g" y="264.8"><tspan class="gi" x="179" textLength="9.6" lengthAdjust="spacingAndGlyphs">K</tspan><tspan class="s gi" x="188" y="266.1">l</tspan><tspan class="s" x="190.6" y="266.1">0</tspan><tspan x="197" y="264.8" textLength="7.4" lengthAdjust="spacingAndGlyphs">=</tspan><tspan x="208.2" y="264.8">10</tspan><tspan class="u" x="219.5" y="260.4">10</tspan></text>
<line x1="154.6" y1="273.85" x2="176.7" y2="273.85" stroke="#4DBEEE" stroke-width="1.8"/>
<text class="g" y="277.75"><tspan class="gi" x="179" textLength="9.6" lengthAdjust="spacingAndGlyphs">K</tspan><tspan class="s gi" x="188" y="279.05">l</tspan><tspan class="s" x="190.6" y="279.05">0</tspan><tspan x="197" y="277.75" textLength="7.4" lengthAdjust="spacingAndGlyphs">=</tspan><tspan x="208.4" y="277.75" font-size="16px" dy="0.6">∞</tspan></text>
<text class="l" y="361.2"><tspan x="88.6" textLength="76.3" lengthAdjust="spacing">Cable location</tspan><tspan x="169.2" font-size="12px">(</tspan><tspan x="173.4" font-style="italic" textLength="6.8" lengthAdjust="spacingAndGlyphs">x̄</tspan><tspan x="181" font-size="12px">)</tspan></text>
<text class="p" x="40.5" y="359" text-anchor="middle">(c)</text>
<text class="l" transform="translate(15.8 274.15) rotate(-90)"><tspan class="gi" x="0" y="0">ϕ</tspan><tspan font-size="9px" x="6.6" y="1.6" textLength="15.6" lengthAdjust="spacing">sinh</tspan></text>
</g>
<g id="panel-d">
<line x1="374.2" y1="196.1" x2="374.2" y2="329.6" stroke="#f3f3f3" stroke-width="1.2"/>
<line x1="438.5" y1="196.1" x2="438.5" y2="329.6" stroke="#f3f3f3" stroke-width="1.2"/>
<line x1="502.8" y1="196.1" x2="502.8" y2="329.6" stroke="#f3f3f3" stroke-width="1.2"/>
<line x1="309.7" y1="329.6" x2="502.6" y2="329.6" stroke="#f0f0f0" stroke-width="1"/>
<line x1="309.7" y1="296.23" x2="502.6" y2="296.23" stroke="#f0f0f0" stroke-width="1"/>
<line x1="309.7" y1="262.85" x2="502.6" y2="262.85" stroke="#f0f0f0" stroke-width="1"/>
<line x1="309.7" y1="229.48" x2="502.6" y2="229.48" stroke="#f0f0f0" stroke-width="1"/>
<line x1="309.7" y1="196.1" x2="502.6" y2="196.1" stroke="#f0f0f0" stroke-width="1"/>
<line x1="310" y1="195.6" x2="310" y2="330.1" stroke="#b0b0b0" stroke-width="1.4"/>
<line x1="309.7" y1="329.6" x2="502.6" y2="329.6" stroke="#b0b0b0" stroke-width="1.2"/>
<line x1="307.3" y1="329.6" x2="309.7" y2="329.6" stroke="#999" stroke-width="1"/>
<text class="t" x="303.5" y="334" text-anchor="end">0</text>
<line x1="307.3" y1="296.23" x2="309.7" y2="296.23" stroke="#999" stroke-width="1"/>
<text class="t" x="303.5" y="300.62" text-anchor="end">0.5</text>
<line x1="307.3" y1="262.85" x2="309.7" y2="262.85" stroke="#999" stroke-width="1"/>
<text class="t" x="303.5" y="267.25" text-anchor="end">1.0</text>
<line x1="307.3" y1="229.48" x2="309.7" y2="229.48" stroke="#999" stroke-width="1"/>
<text class="t" x="303.5" y="233.88" text-anchor="end">1.5</text>
<line x1="307.3" y1="196.1" x2="309.7" y2="196.1" stroke="#999" stroke-width="1"/>
<text class="t" x="303.5" y="200.5" text-anchor="end">2.0</text>
<line x1="309.7" y1="329.6" x2="309.7" y2="331.8" stroke="#999" stroke-width="1"/>
<text class="t" x="309.7" y="346.5" text-anchor="middle">0</text>
<line x1="374" y1="329.6" x2="374" y2="331.8" stroke="#999" stroke-width="1"/>
<text class="t" x="374" y="346.5" text-anchor="middle">0.05</text>
<line x1="438.3" y1="329.6" x2="438.3" y2="331.8" stroke="#999" stroke-width="1"/>
<text class="t" x="438.3" y="346.5" text-anchor="middle">0.1</text>
<line x1="502.6" y1="329.6" x2="502.6" y2="331.8" stroke="#999" stroke-width="1"/>
<text class="t" x="502.6" y="346.5" text-anchor="middle">0.15</text>
<clipPath id="clip-d"><rect x="308.7" y="196.1" width="194.9" height="134.15"/></clipPath>
<clipPath id="clipc-d"><rect x="308.7" y="196.1" width="194.9" height="132.8"/></clipPath>
<g fill="none" stroke-width="1.7" stroke-linejoin="round">
<path d="M309.7 271.53 L309.82 271.96 L310.12 273.04 L310.58 274.61 L311.17 276.61 L311.9 278.96 L312.76 281.59 L313.73 284.42 L314.83 287.4 L316.04 290.46 L317.37 293.56 L318.8 296.64 L320.35 299.65 L322 302.57 L323.75 305.37 L325.61 308.01 L327.57 310.49 L329.63 312.79 L331.79 314.9 L334.05 316.83 L336.4 318.57 L338.85 320.13 L341.4 321.52 L344.04 322.74 L346.77 323.81 L349.6 324.75 L352.52 325.55 L355.53 326.24 L358.63 326.83 L361.82 327.33 L365.1 327.75 L368.46 328.1 L371.92 328.39 L375.46 328.63 L379.09 328.83 L382.81 328.99 L386.61 329.11 L390.5 329.22 L394.48 329.3 L398.53 329.37 L402.68 329.42 L406.9 329.46 L411.21 329.49 L415.6 329.52 L420.08 329.54 L424.63 329.55 L429.27 329.57 L433.99 329.57" stroke="#0072BD" clip-path="url(#clipc-d)"/>
<path d="M309.7 244.16 L309.82 244.78 L310.12 246.3 L310.58 248.53 L311.17 251.37 L311.9 254.7 L312.76 258.44 L313.73 262.48 L314.83 266.74 L316.04 271.14 L317.37 275.59 L318.8 280.03 L320.35 284.4 L322 288.65 L323.75 292.73 L325.61 296.61 L327.57 300.26 L329.63 303.66 L331.79 306.8 L334.05 309.68 L336.4 312.3 L338.85 314.66 L341.4 316.77 L344.04 318.64 L346.77 320.3 L349.6 321.74 L352.52 323 L355.53 324.09 L358.63 325.02 L361.82 325.82 L365.1 326.49 L368.46 327.06 L371.92 327.53 L375.46 327.93 L379.09 328.25 L382.81 328.52 L386.61 328.74 L390.5 328.92 L394.48 329.06 L398.53 329.18 L402.68 329.27 L406.9 329.34 L411.21 329.4 L415.6 329.45 L420.08 329.48 L424.63 329.51 L429.27 329.53 L433.99 329.55 L438.79 329.56 L443.67 329.57" stroke="#D95319" clip-path="url(#clipc-d)"/>
<path d="M309.7 194.77 L309.82 195.76 L310.12 198.21 L310.58 201.82 L311.17 206.4 L311.9 211.77 L312.76 217.78 L313.73 224.28 L314.83 231.12 L316.04 238.16 L317.37 245.28 L318.8 252.38 L320.35 259.34 L322 266.09 L323.75 272.56 L325.61 278.69 L327.57 284.45 L329.63 289.8 L331.79 294.73 L334.05 299.23 L336.4 303.31 L338.85 306.97 L341.4 310.24 L344.04 313.13 L346.77 315.67 L349.6 317.88 L352.52 319.8 L355.53 321.45 L358.63 322.86 L361.82 324.05 L365.1 325.06 L368.46 325.91 L371.92 326.61 L375.46 327.2 L379.09 327.67 L382.81 328.07 L386.61 328.39 L390.5 328.64 L394.48 328.85 L398.53 329.01 L402.68 329.15 L406.9 329.25 L411.21 329.33 L415.6 329.39 L420.08 329.44 L424.63 329.48 L429.27 329.51 L433.99 329.53 L438.79 329.55 L443.67 329.56 L448.63 329.57" stroke="#EDB120" clip-path="url(#clipc-d)"/>
<path d="M309.7 169.4 L309.82 170.6 L310.12 173.53 L310.58 177.85 L311.17 183.33 L311.9 189.76 L312.76 196.95 L313.73 204.71 L314.83 212.88 L316.04 221.29 L317.37 229.79 L318.8 238.25 L320.35 246.55 L322 254.59 L323.75 262.29 L325.61 269.58 L327.57 276.42 L329.63 282.77 L331.79 288.61 L334.05 293.94 L336.4 298.77 L338.85 303.09 L341.4 306.95 L344.04 310.35 L346.77 313.34 L349.6 315.94 L352.52 318.2 L355.53 320.13 L358.63 321.78 L361.82 323.18 L365.1 324.35 L368.46 325.34 L371.92 326.16 L375.46 326.83 L379.09 327.39 L382.81 327.84 L386.61 328.21 L390.5 328.51 L394.48 328.74 L398.53 328.93 L402.68 329.08 L406.9 329.2 L411.21 329.3 L415.6 329.37 L420.08 329.42 L424.63 329.47 L429.27 329.5 L433.99 329.53 L438.79 329.54 L443.67 329.56 L448.63 329.57 L453.67 329.58" stroke="#7E2F8E" clip-path="url(#clipc-d)"/>
<path d="M309.7 169.4 L309.82 170.6 L310.12 173.53 L310.58 177.85 L311.17 183.33 L311.9 189.76 L312.76 196.95 L313.73 204.71 L314.83 212.88 L316.04 221.29 L317.37 229.79 L318.8 238.25 L320.35 246.55 L322 254.59 L323.75 262.29 L325.61 269.58 L327.57 276.42 L329.63 282.77 L331.79 288.61 L334.05 293.94 L336.4 298.77 L338.85 303.09 L341.4 306.95 L344.04 310.35 L346.77 313.34 L349.6 315.94 L352.52 318.2 L355.53 320.13 L358.63 321.78 L361.82 323.18 L365.1 324.35 L368.46 325.34 L371.92 326.16 L375.46 326.83 L379.09 327.39 L382.81 327.84 L386.61 328.21 L390.5 328.51 L394.48 328.74 L398.53 328.93 L402.68 329.08 L406.9 329.2 L411.21 329.3 L415.6 329.37 L420.08 329.42 L424.63 329.47 L429.27 329.5 L433.99 329.53 L438.79 329.54 L443.67 329.56 L448.63 329.57 L453.67 329.58" stroke="#77AC30" clip-path="url(#clipc-d)"/>
<path d="M309.7 329.6 L309.82 329.6 L310.12 329.6 L310.58 329.6 L311.17 329.6 L311.9 329.6 L312.76 329.6 L313.73 329.6 L314.83 329.6 L316.04 329.6 L317.37 329.6 L318.8 329.6 L320.35 329.6 L322 329.6 L323.75 329.6 L325.61 329.6 L327.57 329.6 L329.63 329.6 L331.79 329.6 L334.05 329.6 L336.4 329.6 L338.85 329.6 L341.4 329.6 L344.04 329.6 L346.77 329.6 L349.6 329.6 L352.52 329.6 L355.53 329.6 L358.63 329.6 L361.82 329.6 L365.1 329.6 L368.46 329.6 L371.92 329.6 L375.46 329.6 L379.09 329.6 L382.81 329.6 L386.61 329.6 L390.5 329.6 L394.48 329.6 L398.53 329.6 L402.68 329.6 L406.9 329.6 L411.21 329.6 L415.6 329.6 L420.08 329.6 L424.63 329.6 L429.27 329.6 L433.99 329.6 L438.79 329.6 L443.67 329.6 L448.63 329.6 L453.67 329.6 L458.8 329.6 L464 329.6 L469.28 329.6 L474.63 329.6 L480.07 329.6 L485.59 329.6 L491.18 329.6 L496.85 329.6 L502.6 329.6" stroke="#4DBEEE" clip-path="url(#clip-d)"/>
</g>
<rect x="419.5" y="201.9" width="76.9" height="79.8" fill="#fff" stroke="#7f7f7f" stroke-width="1"/>
<line x1="421.9" y1="209.1" x2="444" y2="209.1" stroke="#0072BD" stroke-width="1.8"/>
<text class="g" y="213"><tspan class="gi" x="446.3" textLength="9.6" lengthAdjust="spacingAndGlyphs">K</tspan><tspan class="s gi" x="455.3" y="214.3">l</tspan><tspan class="s" x="457.9" y="214.3">0</tspan><tspan x="464.3" y="213" textLength="7.4" lengthAdjust="spacingAndGlyphs">=</tspan><tspan x="475.5" y="213">10</tspan><tspan class="u" x="486.8" y="208.6">6</tspan></text>
<line x1="421.9" y1="222.05" x2="444" y2="222.05" stroke="#D95319" stroke-width="1.8"/>
<text class="g" y="225.95"><tspan class="gi" x="446.3" textLength="9.6" lengthAdjust="spacingAndGlyphs">K</tspan><tspan class="s gi" x="455.3" y="227.25">l</tspan><tspan class="s" x="457.9" y="227.25">0</tspan><tspan x="464.3" y="225.95" textLength="7.4" lengthAdjust="spacingAndGlyphs">=</tspan><tspan x="475.5" y="225.95">10</tspan><tspan class="u" x="486.8" y="221.55">7</tspan></text>
<line x1="421.9" y1="235" x2="444" y2="235" stroke="#EDB120" stroke-width="1.8"/>
<text class="g" y="238.9"><tspan class="gi" x="446.3" textLength="9.6" lengthAdjust="spacingAndGlyphs">K</tspan><tspan class="s gi" x="455.3" y="240.2">l</tspan><tspan class="s" x="457.9" y="240.2">0</tspan><tspan x="464.3" y="238.9" textLength="7.4" lengthAdjust="spacingAndGlyphs">=</tspan><tspan x="475.5" y="238.9">10</tspan><tspan class="u" x="486.8" y="234.5">8</tspan></text>
<line x1="421.9" y1="247.95" x2="444" y2="247.95" stroke="#7E2F8E" stroke-width="1.8"/>
<text class="g" y="251.85"><tspan class="gi" x="446.3" textLength="9.6" lengthAdjust="spacingAndGlyphs">K</tspan><tspan class="s gi" x="455.3" y="253.15">l</tspan><tspan class="s" x="457.9" y="253.15">0</tspan><tspan x="464.3" y="251.85" textLength="7.4" lengthAdjust="spacingAndGlyphs">=</tspan><tspan x="475.5" y="251.85">10</tspan><tspan class="u" x="486.8" y="247.45">9</tspan></text>
<line x1="421.9" y1="260.9" x2="444" y2="260.9" stroke="#77AC30" stroke-width="1.8"/>
<text class="g" y="264.8"><tspan class="gi" x="446.3" textLength="9.6" lengthAdjust="spacingAndGlyphs">K</tspan><tspan class="s gi" x="455.3" y="266.1">l</tspan><tspan class="s" x="457.9" y="266.1">0</tspan><tspan x="464.3" y="264.8" textLength="7.4" lengthAdjust="spacingAndGlyphs">=</tspan><tspan x="475.5" y="264.8">10</tspan><tspan class="u" x="486.8" y="260.4">10</tspan></text>
<line x1="421.9" y1="273.85" x2="444" y2="273.85" stroke="#4DBEEE" stroke-width="1.8"/>
<text class="g" y="277.75"><tspan class="gi" x="446.3" textLength="9.6" lengthAdjust="spacingAndGlyphs">K</tspan><tspan class="s gi" x="455.3" y="279.05">l</tspan><tspan class="s" x="457.9" y="279.05">0</tspan><tspan x="464.3" y="277.75" textLength="7.4" lengthAdjust="spacingAndGlyphs">=</tspan><tspan x="475.7" y="277.75" font-size="16px" dy="0.6">∞</tspan></text>
<text class="l" y="361.2"><tspan x="355.9" textLength="76.3" lengthAdjust="spacing">Cable location</tspan><tspan x="436.5" font-size="12px">(</tspan><tspan x="440.7" font-style="italic" textLength="6.8" lengthAdjust="spacingAndGlyphs">x̄</tspan><tspan x="448.3" font-size="12px">)</tspan></text>
<text class="p" x="307.8" y="359" text-anchor="middle">(d)</text>
<text class="l" transform="translate(283.1 274.15) rotate(-90)"><tspan class="gi" x="0" y="0">ϕ</tspan><tspan font-size="9px" x="6.6" y="1.6" textLength="15.6" lengthAdjust="spacing">sinh</tspan></text>
</g>
<g id="panel-e">
<line x1="106.9" y1="377" x2="106.9" y2="510.5" stroke="#f3f3f3" stroke-width="1.2"/>
<line x1="171.2" y1="377" x2="171.2" y2="510.5" stroke="#f3f3f3" stroke-width="1.2"/>
<line x1="235.5" y1="377" x2="235.5" y2="510.5" stroke="#f3f3f3" stroke-width="1.2"/>
<line x1="42.4" y1="510.5" x2="235.3" y2="510.5" stroke="#f0f0f0" stroke-width="1"/>
<line x1="42.4" y1="466" x2="235.3" y2="466" stroke="#f0f0f0" stroke-width="1"/>
<line x1="42.4" y1="421.5" x2="235.3" y2="421.5" stroke="#f0f0f0" stroke-width="1"/>
<line x1="42.4" y1="377" x2="235.3" y2="377" stroke="#f0f0f0" stroke-width="1"/>
<line x1="42.7" y1="376.5" x2="42.7" y2="511" stroke="#b0b0b0" stroke-width="1.4"/>
<line x1="42.4" y1="510.5" x2="235.3" y2="510.5" stroke="#b0b0b0" stroke-width="1.2"/>
<line x1="40" y1="510.5" x2="42.4" y2="510.5" stroke="#999" stroke-width="1"/>
<text class="t" x="36.2" y="514.9" text-anchor="end">0</text>
<line x1="40" y1="466" x2="42.4" y2="466" stroke="#999" stroke-width="1"/>
<text class="t" x="36.2" y="470.4" text-anchor="end">0.5</text>
<line x1="40" y1="421.5" x2="42.4" y2="421.5" stroke="#999" stroke-width="1"/>
<text class="t" x="36.2" y="425.9" text-anchor="end">1.0</text>
<line x1="40" y1="377" x2="42.4" y2="377" stroke="#999" stroke-width="1"/>
<text class="t" x="36.2" y="381.4" text-anchor="end">1.5</text>
<line x1="42.4" y1="510.5" x2="42.4" y2="512.7" stroke="#999" stroke-width="1"/>
<text class="t" x="42.4" y="527.6" text-anchor="middle">0</text>
<line x1="106.7" y1="510.5" x2="106.7" y2="512.7" stroke="#999" stroke-width="1"/>
<text class="t" x="106.7" y="527.6" text-anchor="middle">0.05</text>
<line x1="171" y1="510.5" x2="171" y2="512.7" stroke="#999" stroke-width="1"/>
<text class="t" x="171" y="527.6" text-anchor="middle">0.1</text>
<line x1="235.3" y1="510.5" x2="235.3" y2="512.7" stroke="#999" stroke-width="1"/>
<text class="t" x="235.3" y="527.6" text-anchor="middle">0.15</text>
<clipPath id="clip-e"><rect x="41.4" y="377" width="194.9" height="134.15"/></clipPath>
<clipPath id="clipc-e"><rect x="41.4" y="377" width="194.9" height="132.8"/></clipPath>
<g fill="none" stroke-width="1.7" stroke-linejoin="round">
<path d="M42.4 421.5 L42.52 422.22 L42.82 423.97 L43.28 426.54 L43.87 429.8 L44.6 433.62 L45.46 437.87 L46.43 442.43 L47.53 447.22 L48.74 452.11 L50.07 457.03 L51.5 461.9 L53.05 466.64 L54.7 471.19 L56.45 475.52 L58.31 479.58 L60.27 483.36 L62.33 486.83 L64.49 490 L66.75 492.85 L69.1 495.41 L71.55 497.68 L74.1 499.67 L76.74 501.42 L79.47 502.93 L82.3 504.22 L85.22 505.33 L88.23 506.27 L91.33 507.06 L94.52 507.71 L97.8 508.26 L101.16 508.71 L104.62 509.08 L108.16 509.37 L111.79 509.62 L115.51 509.81 L119.31 509.96 L123.2 510.09 L127.18 510.18 L131.23 510.26 L135.38 510.32 L139.6 510.36 L143.91 510.4 L148.3 510.42 L152.78 510.44 L157.33 510.46 L161.97 510.47 L166.69 510.48" stroke="#0072BD" clip-path="url(#clipc-e)"/>
<path d="M42.4 417.05 L42.52 417.8 L42.82 419.64 L43.28 422.35 L43.87 425.77 L44.6 429.77 L45.46 434.23 L46.43 439.03 L47.53 444.05 L48.74 449.2 L50.07 454.36 L51.5 459.47 L53.05 464.44 L54.7 469.23 L56.45 473.77 L58.31 478.04 L60.27 482 L62.33 485.65 L64.49 488.97 L66.75 491.97 L69.1 494.65 L71.55 497.04 L74.1 499.13 L76.74 500.96 L79.47 502.55 L82.3 503.91 L85.22 505.07 L88.23 506.06 L91.33 506.88 L94.52 507.57 L97.8 508.15 L101.16 508.62 L104.62 509 L108.16 509.32 L111.79 509.57 L115.51 509.78 L119.31 509.94 L123.2 510.07 L127.18 510.17 L131.23 510.25 L135.38 510.31 L139.6 510.35 L143.91 510.39 L148.3 510.42 L152.78 510.44 L157.33 510.46 L161.97 510.47 L166.69 510.48" stroke="#D95319" clip-path="url(#clipc-e)"/>
<path d="M42.4 408.15 L42.52 408.97 L42.82 410.96 L43.28 413.9 L43.87 417.62 L44.6 421.97 L45.46 426.83 L46.43 432.05 L47.53 437.51 L48.74 443.12 L50.07 448.75 L51.5 454.32 L53.05 459.75 L54.7 464.98 L56.45 469.95 L58.31 474.62 L60.27 478.97 L62.33 482.97 L64.49 486.62 L66.75 489.93 L69.1 492.88 L71.55 495.51 L74.1 497.83 L76.74 499.85 L79.47 501.61 L82.3 503.12 L85.22 504.41 L88.23 505.5 L91.33 506.43 L94.52 507.2 L97.8 507.84 L101.16 508.37 L104.62 508.8 L108.16 509.16 L111.79 509.44 L115.51 509.67 L119.31 509.86 L123.2 510 L127.18 510.12 L131.23 510.21 L135.38 510.28 L139.6 510.33 L143.91 510.37 L148.3 510.4 L152.78 510.43 L157.33 510.45 L161.97 510.46 L166.69 510.47" stroke="#EDB120" clip-path="url(#clipc-e)"/>
<path d="M42.4 407.26 L42.52 408.08 L42.82 410.1 L43.28 413.06 L43.87 416.81 L44.6 421.2 L45.46 426.1 L46.43 431.36 L47.53 436.88 L48.74 442.53 L50.07 448.21 L51.5 453.83 L53.05 459.31 L54.7 464.59 L56.45 469.6 L58.31 474.31 L60.27 478.7 L62.33 482.73 L64.49 486.42 L66.75 489.75 L69.1 492.73 L71.55 495.38 L74.1 497.72 L76.74 499.76 L79.47 501.53 L82.3 503.05 L85.22 504.36 L88.23 505.46 L91.33 506.39 L94.52 507.17 L97.8 507.82 L101.16 508.35 L104.62 508.79 L108.16 509.15 L111.79 509.43 L115.51 509.67 L119.31 509.85 L123.2 510 L127.18 510.11 L131.23 510.2 L135.38 510.27 L139.6 510.33 L143.91 510.37 L148.3 510.4 L152.78 510.43 L157.33 510.45 L161.97 510.46 L166.69 510.47" stroke="#7E2F8E" clip-path="url(#clipc-e)"/>
<path d="M42.4 406.9 L42.52 407.73 L42.82 409.75 L43.28 412.73 L43.87 416.49 L44.6 420.9 L45.46 425.81 L46.43 431.09 L47.53 436.63 L48.74 442.3 L50.07 448 L51.5 453.64 L53.05 459.14 L54.7 464.43 L56.45 469.46 L58.31 474.19 L60.27 478.59 L62.33 482.64 L64.49 486.33 L66.75 489.67 L69.1 492.67 L71.55 495.33 L74.1 497.67 L76.74 499.72 L79.47 501.5 L82.3 503.03 L85.22 504.33 L88.23 505.44 L91.33 506.38 L94.52 507.16 L97.8 507.81 L101.16 508.34 L104.62 508.78 L108.16 509.14 L111.79 509.43 L115.51 509.66 L119.31 509.85 L123.2 510 L127.18 510.11 L131.23 510.2 L135.38 510.27 L139.6 510.33 L143.91 510.37 L148.3 510.4 L152.78 510.43 L157.33 510.45 L161.97 510.46 L166.69 510.47" stroke="#77AC30" clip-path="url(#clipc-e)"/>
<path d="M42.4 510.5 L42.52 510.5 L42.82 510.5 L43.28 510.5 L43.87 510.5 L44.6 510.5 L45.46 510.5 L46.43 510.5 L47.53 510.5 L48.74 510.5 L50.07 510.5 L51.5 510.5 L53.05 510.5 L54.7 510.5 L56.45 510.5 L58.31 510.5 L60.27 510.5 L62.33 510.5 L64.49 510.5 L66.75 510.5 L69.1 510.5 L71.55 510.5 L74.1 510.5 L76.74 510.5 L79.47 510.5 L82.3 510.5 L85.22 510.5 L88.23 510.5 L91.33 510.5 L94.52 510.5 L97.8 510.5 L101.16 510.5 L104.62 510.5 L108.16 510.5 L111.79 510.5 L115.51 510.5 L119.31 510.5 L123.2 510.5 L127.18 510.5 L131.23 510.5 L135.38 510.5 L139.6 510.5 L143.91 510.5 L148.3 510.5 L152.78 510.5 L157.33 510.5 L161.97 510.5 L166.69 510.5 L171.49 510.5 L176.37 510.5 L181.33 510.5 L186.37 510.5 L191.5 510.5 L196.7 510.5 L201.98 510.5 L207.33 510.5 L212.77 510.5 L218.29 510.5 L223.88 510.5 L229.55 510.5 L235.3 510.5" stroke="#4DBEEE" clip-path="url(#clip-e)"/>
</g>
<rect x="152.2" y="382.8" width="76.9" height="79.8" fill="#fff" stroke="#7f7f7f" stroke-width="1"/>
<line x1="154.6" y1="390" x2="176.7" y2="390" stroke="#0072BD" stroke-width="1.8"/>
<text class="g" y="393.9"><tspan class="gi" x="179" textLength="9.6" lengthAdjust="spacingAndGlyphs">K</tspan><tspan class="s gi" x="188" y="395.2">l</tspan><tspan class="s" x="190.6" y="395.2">0</tspan><tspan x="197" y="393.9" textLength="7.4" lengthAdjust="spacingAndGlyphs">=</tspan><tspan x="208.2" y="393.9">10</tspan><tspan class="u" x="219.5" y="389.5">6</tspan></text>
<line x1="154.6" y1="402.95" x2="176.7" y2="402.95" stroke="#D95319" stroke-width="1.8"/>
<text class="g" y="406.85"><tspan class="gi" x="179" textLength="9.6" lengthAdjust="spacingAndGlyphs">K</tspan><tspan class="s gi" x="188" y="408.15">l</tspan><tspan class="s" x="190.6" y="408.15">0</tspan><tspan x="197" y="406.85" textLength="7.4" lengthAdjust="spacingAndGlyphs">=</tspan><tspan x="208.2" y="406.85">10</tspan><tspan class="u" x="219.5" y="402.45">7</tspan></text>
<line x1="154.6" y1="415.9" x2="176.7" y2="415.9" stroke="#EDB120" stroke-width="1.8"/>
<text class="g" y="419.8"><tspan class="gi" x="179" textLength="9.6" lengthAdjust="spacingAndGlyphs">K</tspan><tspan class="s gi" x="188" y="421.1">l</tspan><tspan class="s" x="190.6" y="421.1">0</tspan><tspan x="197" y="419.8" textLength="7.4" lengthAdjust="spacingAndGlyphs">=</tspan><tspan x="208.2" y="419.8">10</tspan><tspan class="u" x="219.5" y="415.4">8</tspan></text>
<line x1="154.6" y1="428.85" x2="176.7" y2="428.85" stroke="#7E2F8E" stroke-width="1.8"/>
<text class="g" y="432.75"><tspan class="gi" x="179" textLength="9.6" lengthAdjust="spacingAndGlyphs">K</tspan><tspan class="s gi" x="188" y="434.05">l</tspan><tspan class="s" x="190.6" y="434.05">0</tspan><tspan x="197" y="432.75" textLength="7.4" lengthAdjust="spacingAndGlyphs">=</tspan><tspan x="208.2" y="432.75">10</tspan><tspan class="u" x="219.5" y="428.35">9</tspan></text>
<line x1="154.6" y1="441.8" x2="176.7" y2="441.8" stroke="#77AC30" stroke-width="1.8"/>
<text class="g" y="445.7"><tspan class="gi" x="179" textLength="9.6" lengthAdjust="spacingAndGlyphs">K</tspan><tspan class="s gi" x="188" y="447">l</tspan><tspan class="s" x="190.6" y="447">0</tspan><tspan x="197" y="445.7" textLength="7.4" lengthAdjust="spacingAndGlyphs">=</tspan><tspan x="208.2" y="445.7">10</tspan><tspan class="u" x="219.5" y="441.3">10</tspan></text>
<line x1="154.6" y1="454.75" x2="176.7" y2="454.75" stroke="#4DBEEE" stroke-width="1.8"/>
<text class="g" y="458.65"><tspan class="gi" x="179" textLength="9.6" lengthAdjust="spacingAndGlyphs">K</tspan><tspan class="s gi" x="188" y="459.95">l</tspan><tspan class="s" x="190.6" y="459.95">0</tspan><tspan x="197" y="458.65" textLength="7.4" lengthAdjust="spacingAndGlyphs">=</tspan><tspan x="208.4" y="458.65" font-size="16px" dy="0.6">∞</tspan></text>
<text class="l" y="542.3"><tspan x="88.6" textLength="76.3" lengthAdjust="spacing">Cable location</tspan><tspan x="169.2" font-size="12px">(</tspan><tspan x="173.4" font-style="italic" textLength="6.8" lengthAdjust="spacingAndGlyphs">x̄</tspan><tspan x="181" font-size="12px">)</tspan></text>
<text class="p" x="40.5" y="540.1" text-anchor="middle">(e)</text>
<text class="l" transform="translate(15.8 455.05) rotate(-90)"><tspan class="gi" x="0" y="0">ϕ</tspan><tspan font-size="9px" x="6.6" y="1.6" textLength="15.6" lengthAdjust="spacing">sinh</tspan></text>
</g>
<g id="panel-f">
<line x1="374.2" y1="377" x2="374.2" y2="510.5" stroke="#f3f3f3" stroke-width="1.2"/>
<line x1="438.5" y1="377" x2="438.5" y2="510.5" stroke="#f3f3f3" stroke-width="1.2"/>
<line x1="502.8" y1="377" x2="502.8" y2="510.5" stroke="#f3f3f3" stroke-width="1.2"/>
<line x1="309.7" y1="510.5" x2="502.6" y2="510.5" stroke="#f0f0f0" stroke-width="1"/>
<line x1="309.7" y1="466" x2="502.6" y2="466" stroke="#f0f0f0" stroke-width="1"/>
<line x1="309.7" y1="421.5" x2="502.6" y2="421.5" stroke="#f0f0f0" stroke-width="1"/>
<line x1="309.7" y1="377" x2="502.6" y2="377" stroke="#f0f0f0" stroke-width="1"/>
<line x1="310" y1="376.5" x2="310" y2="511" stroke="#b0b0b0" stroke-width="1.4"/>
<line x1="309.7" y1="510.5" x2="502.6" y2="510.5" stroke="#b0b0b0" stroke-width="1.2"/>
<line x1="307.3" y1="510.5" x2="309.7" y2="510.5" stroke="#999" stroke-width="1"/>
<text class="t" x="303.5" y="514.9" text-anchor="end">0</text>
<line x1="307.3" y1="466" x2="309.7" y2="466" stroke="#999" stroke-width="1"/>
<text class="t" x="303.5" y="470.4" text-anchor="end">0.5</text>
<line x1="307.3" y1="421.5" x2="309.7" y2="421.5" stroke="#999" stroke-width="1"/>
<text class="t" x="303.5" y="425.9" text-anchor="end">1.0</text>
<line x1="307.3" y1="377" x2="309.7" y2="377" stroke="#999" stroke-width="1"/>
<text class="t" x="303.5" y="381.4" text-anchor="end">1.5</text>
<line x1="309.7" y1="510.5" x2="309.7" y2="512.7" stroke="#999" stroke-width="1"/>
<text class="t" x="309.7" y="527.6" text-anchor="middle">0</text>
<line x1="374" y1="510.5" x2="374" y2="512.7" stroke="#999" stroke-width="1"/>
<text class="t" x="374" y="527.6" text-anchor="middle">0.05</text>
<line x1="438.3" y1="510.5" x2="438.3" y2="512.7" stroke="#999" stroke-width="1"/>
<text class="t" x="438.3" y="527.6" text-anchor="middle">0.1</text>
<line x1="502.6" y1="510.5" x2="502.6" y2="512.7" stroke="#999" stroke-width="1"/>
<text class="t" x="502.6" y="527.6" text-anchor="middle">0.15</text>
<clipPath id="clip-f"><rect x="308.7" y="377" width="194.9" height="134.15"/></clipPath>
<clipPath id="clipc-f"><rect x="308.7" y="377" width="194.9" height="132.8"/></clipPath>
<g fill="none" stroke-width="1.7" stroke-linejoin="round">
<path d="M309.7 409.66 L309.82 410.56 L310.12 412.75 L310.58 415.95 L311.17 419.99 L311.9 424.7 L312.76 429.92 L313.73 435.5 L314.83 441.29 L316.04 447.18 L317.37 453.04 L318.8 458.79 L320.35 464.32 L322 469.59 L323.75 474.53 L325.61 479.11 L327.57 483.31 L329.63 487.13 L331.79 490.55 L334.05 493.6 L336.4 496.28 L338.85 498.62 L341.4 500.64 L344.04 502.38 L346.77 503.85 L349.6 505.1 L352.52 506.14 L355.53 507 L358.63 507.71 L361.82 508.3 L365.1 508.77 L368.46 509.15 L371.92 509.45 L375.46 509.69 L379.09 509.88 L382.81 510.03 L386.61 510.14 L390.5 510.23 L394.48 510.3 L398.53 510.35 L402.68 510.39 L406.9 510.42 L411.21 510.44 L415.6 510.46 L420.08 510.47 L424.63 510.48" stroke="#0072BD" clip-path="url(#clipc-f)"/>
<path d="M309.7 442.86 L309.82 443.47 L310.12 444.97 L310.58 447.16 L311.17 449.92 L311.9 453.13 L312.76 456.68 L313.73 460.48 L314.83 464.41 L316.04 468.4 L317.37 472.37 L318.8 476.25 L320.35 479.99 L322 483.53 L323.75 486.84 L325.61 489.91 L327.57 492.72 L329.63 495.26 L331.79 497.53 L334.05 499.54 L336.4 501.31 L338.85 502.85 L341.4 504.18 L344.04 505.31 L346.77 506.27 L349.6 507.08 L352.52 507.75 L355.53 508.3 L358.63 508.76 L361.82 509.13 L365.1 509.43 L368.46 509.66 L371.92 509.85 L375.46 510 L379.09 510.12 L382.81 510.21 L386.61 510.28 L390.5 510.34 L394.48 510.38 L398.53 510.41 L402.68 510.44 L406.9 510.45 L411.21 510.47 L415.6 510.48" stroke="#D95319" clip-path="url(#clipc-f)"/>
<path d="M309.7 489.14 L309.82 489.34 L310.12 489.85 L310.58 490.58 L311.17 491.5 L311.9 492.56 L312.76 493.74 L313.73 494.99 L314.83 496.28 L316.04 497.59 L317.37 498.88 L318.8 500.13 L320.35 501.32 L322 502.45 L323.75 503.49 L325.61 504.45 L327.57 505.33 L329.63 506.11 L331.79 506.8 L334.05 507.41 L336.4 507.93 L338.85 508.39 L341.4 508.77 L344.04 509.1 L346.77 509.37 L349.6 509.6 L352.52 509.79 L355.53 509.94 L358.63 510.06 L361.82 510.16 L365.1 510.24 L368.46 510.3 L371.92 510.35 L375.46 510.38 L379.09 510.41 L382.81 510.44 L386.61 510.45 L390.5 510.46 L394.48 510.47" stroke="#EDB120" clip-path="url(#clipc-f)"/>
<path d="M309.7 490.74 L309.82 490.93 L310.12 491.39 L310.58 492.07 L311.17 492.92 L311.9 493.91 L312.76 495 L313.73 496.16 L314.83 497.35 L316.04 498.56 L317.37 499.75 L318.8 500.9 L320.35 502.01 L322 503.05 L323.75 504.02 L325.61 504.91 L327.57 505.71 L329.63 506.44 L331.79 507.08 L334.05 507.64 L336.4 508.13 L338.85 508.54 L341.4 508.9 L344.04 509.2 L346.77 509.46 L349.6 509.67 L352.52 509.84 L355.53 509.98 L358.63 510.09 L361.82 510.18 L365.1 510.26 L368.46 510.31 L371.92 510.36 L375.46 510.39 L379.09 510.42 L382.81 510.44 L386.61 510.46 L390.5 510.47 L394.48 510.48" stroke="#7E2F8E" clip-path="url(#clipc-f)"/>
<path d="M309.7 488.11 L309.82 488.32 L310.12 488.85 L310.58 489.61 L311.17 490.58 L311.9 491.7 L312.76 492.93 L313.73 494.24 L314.83 495.6 L316.04 496.96 L317.37 498.31 L318.8 499.63 L320.35 500.88 L322 502.06 L323.75 503.16 L325.61 504.16 L327.57 505.08 L329.63 505.89 L331.79 506.62 L334.05 507.26 L336.4 507.81 L338.85 508.28 L341.4 508.69 L344.04 509.03 L346.77 509.32 L349.6 509.56 L352.52 509.75 L355.53 509.91 L358.63 510.04 L361.82 510.14 L365.1 510.22 L368.46 510.29 L371.92 510.34 L375.46 510.38 L379.09 510.41 L382.81 510.43 L386.61 510.45 L390.5 510.46 L394.48 510.47" stroke="#77AC30" clip-path="url(#clipc-f)"/>
<path d="M309.7 510.5 L309.82 510.5 L310.12 510.5 L310.58 510.5 L311.17 510.5 L311.9 510.5 L312.76 510.5 L313.73 510.5 L314.83 510.5 L316.04 510.5 L317.37 510.5 L318.8 510.5 L320.35 510.5 L322 510.5 L323.75 510.5 L325.61 510.5 L327.57 510.5 L329.63 510.5 L331.79 510.5 L334.05 510.5 L336.4 510.5 L338.85 510.5 L341.4 510.5 L344.04 510.5 L346.77 510.5 L349.6 510.5 L352.52 510.5 L355.53 510.5 L358.63 510.5 L361.82 510.5 L365.1 510.5 L368.46 510.5 L371.92 510.5 L375.46 510.5 L379.09 510.5 L382.81 510.5 L386.61 510.5 L390.5 510.5 L394.48 510.5 L398.53 510.5 L402.68 510.5 L406.9 510.5 L411.21 510.5 L415.6 510.5 L420.08 510.5 L424.63 510.5 L429.27 510.5 L433.99 510.5 L438.79 510.5 L443.67 510.5 L448.63 510.5 L453.67 510.5 L458.8 510.5 L464 510.5 L469.28 510.5 L474.63 510.5 L480.07 510.5 L485.59 510.5 L491.18 510.5 L496.85 510.5 L502.6 510.5" stroke="#4DBEEE" clip-path="url(#clip-f)"/>
</g>
<rect x="419.5" y="382.8" width="76.9" height="79.8" fill="#fff" stroke="#7f7f7f" stroke-width="1"/>
<line x1="421.9" y1="390" x2="444" y2="390" stroke="#0072BD" stroke-width="1.8"/>
<text class="g" y="393.9"><tspan class="gi" x="446.3" textLength="9.6" lengthAdjust="spacingAndGlyphs">K</tspan><tspan class="s gi" x="455.3" y="395.2">l</tspan><tspan class="s" x="457.9" y="395.2">0</tspan><tspan x="464.3" y="393.9" textLength="7.4" lengthAdjust="spacingAndGlyphs">=</tspan><tspan x="475.5" y="393.9">10</tspan><tspan class="u" x="486.8" y="389.5">6</tspan></text>
<line x1="421.9" y1="402.95" x2="444" y2="402.95" stroke="#D95319" stroke-width="1.8"/>
<text class="g" y="406.85"><tspan class="gi" x="446.3" textLength="9.6" lengthAdjust="spacingAndGlyphs">K</tspan><tspan class="s gi" x="455.3" y="408.15">l</tspan><tspan class="s" x="457.9" y="408.15">0</tspan><tspan x="464.3" y="406.85" textLength="7.4" lengthAdjust="spacingAndGlyphs">=</tspan><tspan x="475.5" y="406.85">10</tspan><tspan class="u" x="486.8" y="402.45">7</tspan></text>
<line x1="421.9" y1="415.9" x2="444" y2="415.9" stroke="#EDB120" stroke-width="1.8"/>
<text class="g" y="419.8"><tspan class="gi" x="446.3" textLength="9.6" lengthAdjust="spacingAndGlyphs">K</tspan><tspan class="s gi" x="455.3" y="421.1">l</tspan><tspan class="s" x="457.9" y="421.1">0</tspan><tspan x="464.3" y="419.8" textLength="7.4" lengthAdjust="spacingAndGlyphs">=</tspan><tspan x="475.5" y="419.8">10</tspan><tspan class="u" x="486.8" y="415.4">8</tspan></text>
<line x1="421.9" y1="428.85" x2="444" y2="428.85" stroke="#7E2F8E" stroke-width="1.8"/>
<text class="g" y="432.75"><tspan class="gi" x="446.3" textLength="9.6" lengthAdjust="spacingAndGlyphs">K</tspan><tspan class="s gi" x="455.3" y="434.05">l</tspan><tspan class="s" x="457.9" y="434.05">0</tspan><tspan x="464.3" y="432.75" textLength="7.4" lengthAdjust="spacingAndGlyphs">=</tspan><tspan x="475.5" y="432.75">10</tspan><tspan class="u" x="486.8" y="428.35">9</tspan></text>
<line x1="421.9" y1="441.8" x2="444" y2="441.8" stroke="#77AC30" stroke-width="1.8"/>
<text class="g" y="445.7"><tspan class="gi" x="446.3" textLength="9.6" lengthAdjust="spacingAndGlyphs">K</tspan><tspan class="s gi" x="455.3" y="447">l</tspan><tspan class="s" x="457.9" y="447">0</tspan><tspan x="464.3" y="445.7" textLength="7.4" lengthAdjust="spacingAndGlyphs">=</tspan><tspan x="475.5" y="445.7">10</tspan><tspan class="u" x="486.8" y="441.3">10</tspan></text>
<line x1="421.9" y1="454.75" x2="444" y2="454.75" stroke="#4DBEEE" stroke-width="1.8"/>
<text class="g" y="458.65"><tspan class="gi" x="446.3" textLength="9.6" lengthAdjust="spacingAndGlyphs">K</tspan><tspan class="s gi" x="455.3" y="459.95">l</tspan><tspan class="s" x="457.9" y="459.95">0</tspan><tspan x="464.3" y="458.65" textLength="7.4" lengthAdjust="spacingAndGlyphs">=</tspan><tspan x="475.7" y="458.65" font-size="16px" dy="0.6">∞</tspan></text>
<text class="l" y="542.3"><tspan x="355.9" textLength="76.3" lengthAdjust="spacing">Cable location</tspan><tspan x="436.5" font-size="12px">(</tspan><tspan x="440.7" font-style="italic" textLength="6.8" lengthAdjust="spacingAndGlyphs">x̄</tspan><tspan x="448.3" font-size="12px">)</tspan></text>
<text class="p" x="307.8" y="540.1" text-anchor="middle">(f)</text>
<text class="l" transform="translate(283.1 455.05) rotate(-90)"><tspan class="gi" x="0" y="0">ϕ</tspan><tspan font-size="9px" x="6.6" y="1.6" textLength="15.6" lengthAdjust="spacing">sinh</tspan></text>
</g>
</svg>
</body></html>
